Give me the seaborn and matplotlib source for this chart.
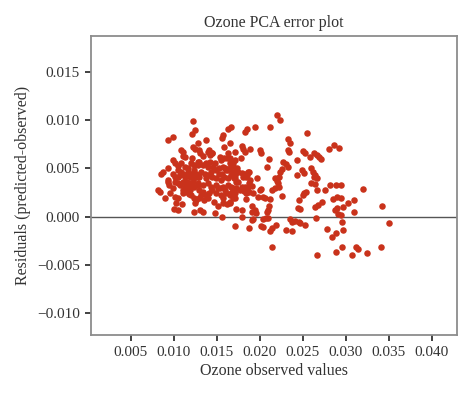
import matplotlib
matplotlib.use("Agg")
import matplotlib.pyplot as plt
import matplotlib.ticker as mticker
import seaborn as sns
import pandas as pd

observed = [
    0.0220, 0.0224, 0.0123, 0.0121, 0.0125, 0.00935, 0.0099, 0.0156, 0.0157, 0.01635,
    0.0167, 0.0183, 0.0185, 0.01945, 0.0212, 0.0233, 0.0235, 0.0255, 0.0280, 0.0286,
    0.0292, 0.0253, 0.02585, 0.02635, 0.0266, 0.0269, 0.0271, 0.0250, 0.0233, 0.0234,
    0.0200, 0.0202, 0.0179, 0.0181, 0.0183, 0.0158, 0.0171, 0.0189, 0.0211, 0.0243,
    0.0227, 0.0230, 0.0233, 0.0249, 0.0251, 0.0260, 0.0262, 0.0264, 0.02635, 0.0266,
    0.0208, 0.0223, 0.0226, 0.0243, 0.0218, 0.0222, 0.0220, 0.0221, 0.01965, 0.0260,
    0.0264, 0.0276, 0.0282, 0.0288, 0.0294, 0.0320, 0.0214, 0.0218, 0.0222, 0.0202,
    0.0251, 0.0254, 0.0266, 0.0206, 0.0212, 0.0226, 0.0245, 0.0264, 0.0268, 0.0272,
    0.0285, 0.0290, 0.02945, 0.0303, 0.0310, 0.0287, 0.0290, 0.0297, 0.0310, 0.0291,
    0.02945, 0.0342, 0.0350, 0.0244, 0.0247, 0.0235, 0.0238, 0.0245, 0.0241, 0.0247,
    0.0253, 0.0231, 0.0238, 0.0265, 0.0278, 0.0284, 0.0289, 0.0296, 0.0297, 0.0214,
    0.0266, 0.0288, 0.0296, 0.0307, 0.0312, 0.0314, 0.0324, 0.0341, 0.0210, 0.0211,
    0.0191, 0.01925, 0.0187, 0.0171, 0.0202, 0.0204, 0.01945, 0.0179, 0.0212, 0.0214,
    0.0219, 0.0156, 0.0250, 0.0198, 0.0191, 0.0191, 0.0196, 0.0208, 0.0204, 0.0207,
    0.0210, 0.0179, 0.0172, 0.0184, 0.0171, 0.0165, 0.0172, 0.0179, 0.0182, 0.0184,
    0.0186, 0.0187, 0.0167, 0.0188, 0.0191, 0.0186, 0.01825, 0.0184, 0.0171, 0.0175,
    0.0178, 0.0165, 0.0082, 0.0084, 0.0090, 0.0096, 0.01015, 0.0105, 0.0100, 0.0105,
    0.0110, 0.0124, 0.0131, 0.0134, 0.0125, 0.0135, 0.0148, 0.0152, 0.0157, 0.0111,
    0.0115, 0.0119, 0.0118, 0.0130, 0.0134, 0.0138, 0.0140, 0.0144, 0.0154, 0.0160,
    0.0162, 0.0103, 0.0111, 0.0115, 0.01185, 0.01205, 0.01235, 0.0126, 0.0124, 0.0128,
    0.00855, 0.00935, 0.0099, 0.0101, 0.00935, 0.0095, 0.0099, 0.0088, 0.01015, 0.0105,
    0.0109, 0.0094, 0.01015, 0.0105, 0.0109, 0.0111, 0.0111, 0.0122, 0.0125, 0.0129,
    0.01305, 0.0134, 0.0140, 0.0144, 0.0142, 0.0113, 0.0121, 0.0099, 0.0105, 0.01375,
    0.0155, 0.0159, 0.0165, 0.0169, 0.0128, 0.0130, 0.0134, 0.0138, 0.0140, 0.0142,
    0.0146, 0.0148, 0.0153, 0.0157, 0.0149, 0.0161, 0.0165, 0.0169, 0.0172, 0.0132,
    0.0136, 0.0143, 0.0130, 0.01375, 0.0141, 0.0145, 0.0149, 0.0153, 0.0155, 0.0159,
    0.0163, 0.0167, 0.01705, 0.0172, 0.0128, 0.0134, 0.0140, 0.0143, 0.0149, 0.0151,
    0.0157, 0.0163, 0.0167, 0.0169, 0.0161, 0.0165, 0.0155, 0.0149, 0.0141, 0.0132,
    0.0130, 0.0147, 0.0157, 0.0165, 0.0169, 0.0128, 0.0111, 0.0115, 0.0107, 0.0105,
    0.0113, 0.01165, 0.01185, 0.01205, 0.0124, 0.0126, 0.0124, 0.0128, 0.0122, 0.01185,
    0.0115, 0.0111, 0.0107, 0.0113, 0.01205, 0.0124, 0.0128, 0.0113, 0.01165, 0.0109,
    0.0163, 0.0171, 0.0165, 0.0169, 0.0173, 0.0163, 0.0171, 0.0175, 0.0179, 0.0188,
    0.0154, 0.0162, 0.0160, 0.0156, 0.0181, 0.0185, 0.0189, 0.0183, 0.0177, 0.0169,
    0.0171, 0.01925, 0.0200, 0.0204, 0.0141, 0.0145,
]

residuals = [
    0.0105, 0.0100, 0.0099, 0.0086, 0.0090, 0.0079, 0.00825, 0.0082, 0.00845, 0.00914,
    0.00925, 0.0088, 0.0091, 0.00925, 0.0093, 0.0081, 0.0076, 0.0087, 0.00707, 0.0074,
    0.00717, 0.00662, 0.0062, 0.00656, 0.00638, 0.00614, 0.00594, 0.00683, 0.0069, 0.0067,
    0.0069, 0.0066, 0.0073, 0.00697, 0.0067, 0.00724, 0.0067, 0.00707, 0.00594, 0.00587,
    0.0057, 0.00545, 0.00517, 0.00483, 0.00455, 0.0050, 0.00465, 0.0043, 0.00414, 0.00397,
    0.00517, 0.00465, 0.0049, 0.0043, 0.00397, 0.00414, 0.00372, 0.00345, 0.00397, 0.00345,
    0.00338, 0.00276, 0.00328, 0.0033, 0.00328, 0.00283, 0.00276, 0.00294, 0.00304, 0.00283,
    0.00248, 0.00259, 0.00276, 0.0019, 0.00185, 0.00214, 0.00173, 0.00103, 0.00121, 0.00155,
    0.0018, 0.0020, 0.0019, 0.00145, 0.00173, 0.00069, 0.00087, 0.00097, 0.00052, 0.00028,
    0.00014, 0.0011, -0.00062, 0.00087, 0.0008, -0.00027, -0.00052, -0.00052, -0.00045, -0.00069,
    -0.0009, -0.00138, -0.00148, -0.00017, -0.0013, -0.00207, -0.00166, -0.00058, -0.00138, -0.0031,
    -0.00396, -0.00362, -0.00317, -0.00396, -0.0031, -0.00338, -0.00372, -0.0031, 0.00069, 0.0011,
    -0.00034, -0.00027, -0.0012, -0.00096, -0.00096, -0.00103, 0.00069, 0.0, -0.00145, -0.0012,
    -0.00086, 0.0, 0.0023, 0.0020, 0.00114, 0.00045, 0.00035, 0.00052, -0.00024, -0.00017,
    -0.0001, 0.00069, 0.0008, 0.00183, 0.00197, 0.00138, 0.0030, 0.0031, 0.00266, 0.00242,
    0.0031, 0.00259, 0.00242, 0.00345, 0.00317, 0.00465, 0.00448, 0.00414, 0.00397, 0.00362,
    0.00604, 0.0076, 0.00276, 0.00252, 0.0019, 0.00242, 0.00207, 0.0019, 0.0008, 0.00069,
    0.00128, 0.00045, 0.00069, 0.00052, 0.00138, 0.00173, 0.00035, 0.00114, 0.0019, 0.00276,
    0.00259, 0.0031, 0.00232, 0.00276, 0.00252, 0.00224, 0.0019, 0.00276, 0.00294, 0.00276,
    0.00128, 0.00138, 0.00242, 0.00294, 0.00276, 0.00224, 0.0019, 0.00173, 0.0031, 0.00328,
    0.00448, 0.0050, 0.00448, 0.00414, 0.00362, 0.00328, 0.00294, 0.00465, 0.00552, 0.00483,
    0.00465, 0.0038, 0.00362, 0.00345, 0.0069, 0.0067, 0.00628, 0.00724, 0.00707, 0.0069,
    0.00656, 0.00628, 0.00672, 0.00662, 0.00638, 0.0062, 0.00604, 0.00587, 0.00524, 0.00793,
    0.00587, 0.00604, 0.00604, 0.00552, 0.00535, 0.0057, 0.00535, 0.00552, 0.00517, 0.0057,
    0.00517, 0.00552, 0.0050, 0.00517, 0.00483, 0.00483, 0.0050, 0.00465, 0.00483, 0.00465,
    0.00448, 0.00465, 0.00414, 0.00397, 0.00431, 0.00414, 0.00397, 0.00448, 0.0038, 0.00414,
    0.00397, 0.00431, 0.00397, 0.00362, 0.00345, 0.00328, 0.00345, 0.0031, 0.00328, 0.00294,
    0.0031, 0.00328, 0.0031, 0.00276, 0.00242, 0.00224, 0.00224, 0.00242, 0.00242, 0.00224,
    0.0019, 0.00155, 0.00138, 0.00155, 0.0019, 0.0076, 0.00448, 0.00431, 0.00431, 0.00414,
    0.00407, 0.00465, 0.00414, 0.00448, 0.00483, 0.00448, 0.00397, 0.00414, 0.00362, 0.00345,
    0.00362, 0.00362, 0.00328, 0.0031, 0.00552, 0.00535, 0.0057, 0.00517, 0.0050, 0.00552,
    0.00656, 0.00587, 0.00552, 0.00524, 0.0050, 0.00483, 0.00431, 0.00465, 0.00455, 0.00465,
    0.0062, 0.00604, 0.0050, 0.00448, 0.00414, 0.00431, 0.0038, 0.0031, 0.00276, 0.00294,
    0.00242, 0.00242, 0.00276, 0.00207, 0.0069, 0.00656,
]

x_ticks = [0.005, 0.010, 0.015, 0.020, 0.025, 0.030, 0.035, 0.040]
y_ticks = [-0.010, -0.005, 0.000, 0.005, 0.010, 0.015]

title = "Ozone PCA error plot"
x_label = "Ozone observed values"
y_label = "Residuals (predicted-observed)"

df = pd.DataFrame({"observed": observed, "residual": residuals})

sns.set_style("white")
plt.rcParams["font.family"] = ["Liberation Serif", "DejaVu Serif"]

fig = plt.figure(figsize=(4.74, 3.94), dpi=100)
ax = fig.add_axes([0.192, 0.150, 0.772, 0.758])

sns.scatterplot(data=df, x="observed", y="residual", ax=ax,
                color="#c9321b", s=22, linewidth=0, alpha=1.0, zorder=3)

ax.axhline(0.0, color="#555555", lw=1.0, zorder=2)

ax.set_xlim(0.0004, 0.0429)
ax.set_ylim(-0.01224, 0.0187)
ax.set_xticks(x_ticks)
ax.set_yticks(y_ticks)

fmt = mticker.FuncFormatter(lambda v, p: f"{v:.3f}".replace("-", "\u2212") if abs(v) > 1e-12 else "0.000")
ax.xaxis.set_major_formatter(fmt)
ax.yaxis.set_major_formatter(fmt)

for sp in ax.spines.values():
    sp.set_color("#8c8c8c")
    sp.set_linewidth(1.3)

ax.tick_params(axis="both", which="major", direction="out", length=4, width=1.3,
               color="#333333", labelcolor="#333333", labelsize=11, pad=4,
               left=True, bottom=True, top=False, right=False)

ax.set_title(title, fontsize=11.5, color="#333333", pad=7)
ax.set_xlabel(x_label, fontsize=11.5, color="#333333", labelpad=3)
ax.set_ylabel(y_label, fontsize=11.5, color="#333333", labelpad=4)

fig.savefig("out.png", dpi=100)
